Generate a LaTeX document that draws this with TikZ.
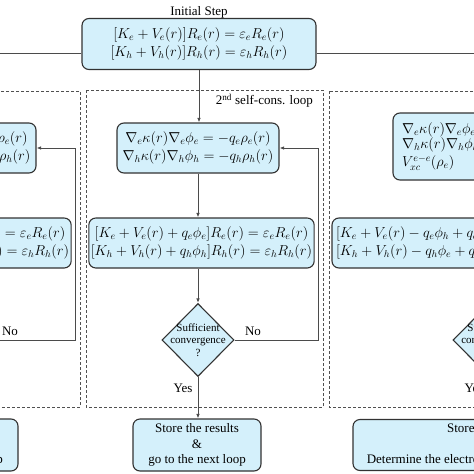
\documentclass[tikz,border=0pt]{standalone}
\usepackage[no-math]{fontspec}
\setmainfont{Liberation Serif}
\usetikzlibrary{shapes.geometric,arrows.meta,calc}
\definecolor{boxfill}{RGB}{212,240,251}
\definecolor{boxline}{RGB}{50,50,50}
\definecolor{conn}{RGB}{75,75,75}
\definecolor{dashc}{RGB}{80,80,80}
\begin{document}
\begin{tikzpicture}[x=1pt,y=-1pt,
  eqbox/.style={draw=boxline, fill=boxfill, rounded corners=7pt, line width=1.1pt,
    align=center, inner sep=2pt, font=\fontsize{14.5}{18}\selectfont},
  txtbox/.style={draw=boxline, fill=boxfill, rounded corners=7pt, line width=1.1pt,
    align=center, inner sep=2pt, font=\fontsize{13}{15.5}\selectfont},
  decision/.style={diamond, draw=boxline, fill=boxfill, line width=1.1pt, inner sep=0pt,
    minimum width=72pt, minimum height=73pt},
  dectext/.style={align=center, inner sep=0pt, font=\fontsize{11}{12.5}\selectfont},
  lbl/.style={inner sep=0pt, font=\fontsize{13}{15}\selectfont},
  conn/.style={draw=conn, line width=1pt},
  arr/.style={conn, -{Latex[length=4.5pt,width=3.5pt]}},
  loopbox/.style={draw=dashc, line width=0.9pt, dash pattern=on 3pt off 2pt}
]
\useasboundingbox (0,0) rectangle (474,474);
\clip (0,0) rectangle (474,474);

% ---------- top ----------
\node[lbl] (init) at (199,12) {Initial Step};
\node[eqbox, minimum width=234pt, minimum height=51pt] (top) at (199,44)
  {$[K_e+V_e(r)]R_e(r)=\varepsilon_e R_e(r)$\\$[K_h+V_h(r)]R_h(r)=\varepsilon_h R_h(r)$};

% ---------- dashed loop frames ----------
\draw[loopbox] (-157,91) rectangle (80,407);
\draw[loopbox] (86,90) rectangle (323,407);
\draw[loopbox] (329,91) rectangle (650,407);
\node[lbl, anchor=east] (loop2) at (313,101) {2\textsuperscript{nd} self-cons. loop};

% ---------- left column ----------
\node[eqbox, minimum width=162pt, minimum height=50pt] (lb1) at (-45,148)
  {$\nabla_e\kappa(r)\nabla_e\phi_e=-q_e\rho_e(r)$\\$\nabla_h\kappa(r)\nabla_h\phi_h=-q_h\rho_h(r)$};
\node[eqbox, minimum width=223pt, minimum height=50pt] (lb2) at (-41.5,243)
  {$[K_e+V_e(r)+q_e\phi_e]R_e(r)=\varepsilon_e R_e(r)$\\$[K_h+V_h(r)+q_h\phi_h]R_h(r)=\varepsilon_h R_h(r)$};
\node[decision] (ld) at (-45,340) {};
\node[dectext] (ldt) at (ld.center) {Sufficient\\convergence\\?};
\node[txtbox, minimum width=128pt, minimum height=52pt] (ls) at (-46,445)
  {Store the results\\\&\\go to the next loop};
\coordinate (lcorner) at (75,340);
\draw[arr] (lb1) -- (lb2);
\draw[arr] (lb2) -- (ld);
\draw[arr] (ld) -- (ls);
\draw[arr] (ld.east) -- (lcorner) |- (lb1.east);
\node[lbl] (lno) at (10,331) {No};
\node[lbl] (lyes) at (-60,388) {Yes};

% ---------- middle column ----------
\node[eqbox, minimum width=162pt, minimum height=50pt] (b1) at (198,148)
  {$\nabla_e\kappa(r)\nabla_e\phi_e=-q_e\rho_e(r)$\\$\nabla_h\kappa(r)\nabla_h\phi_h=-q_h\rho_h(r)$};
\node[eqbox, minimum width=223pt, minimum height=50pt] (b2) at (201.5,243)
  {$[K_e+V_e(r)+q_e\phi_e]R_e(r)=\varepsilon_e R_e(r)$\\$[K_h+V_h(r)+q_h\phi_h]R_h(r)=\varepsilon_h R_h(r)$};
\node[decision] (d) at (198,340) {};
\node[dectext] (dt) at (d.center) {Sufficient\\convergence\\?};
\node[txtbox, minimum width=128pt, minimum height=52pt] (s) at (197,445)
  {Store the results\\\&\\go to the next loop};
\coordinate (mcorner) at (318,340);
\draw[arr] (top.south) -- (top.south |- b1.north);
\draw[arr] (b1.south) -- (b1.south |- b2.north);
\draw[arr] (b1.south |- b2.south) -- (d.north);
\draw[arr] (d.south) -- (d.south |- s.north);
\draw[arr] (d.east) -- (mcorner) |- (b1.east);
\node[lbl] (mno) at (253,331) {No};
\node[lbl] (myes) at (183,388) {Yes};

% ---------- right column ----------
\node[eqbox, minimum width=192pt, minimum height=67pt, align=left, inner xsep=9pt,
  inner ysep=1pt, text width=174pt, font=\fontsize{14.5}{15}\selectfont] (rb1) at (489,146.5)
  {$\nabla_e\kappa(r)\nabla_e\phi_e=-q_e\rho_e(r)$\\$\nabla_h\kappa(r)\nabla_h\phi_h=-q_h\rho_h(r)$\\[3pt]$V_{xc}^{e-e}(\rho_e)$};
\node[eqbox, minimum width=314pt, minimum height=50pt, align=left, inner xsep=4pt,
  text width=306pt] (rb2) at (489,243)
  {$[K_e+V_e(r)-q_e\phi_h+q_e\phi_e]R_e(r)=\varepsilon_e R_e(r)$\\$[K_h+V_h(r)-q_h\phi_e+q_h\phi_h]R_h(r)=\varepsilon_h R_h(r)$};
\node[decision] (rd) at (489,340) {};
\node[dectext] (rdt) at (rd.center) {Sufficient\\convergence\\?};
\node[txtbox, minimum width=272pt, minimum height=51pt] (rs) at (489,445)
  {Store the results\\\&\\Determine the electronic and optical properties};
\draw[arr] (rb1) -- (rb2);
\draw[arr] (rb2) -- (rd);
\draw[arr] (rd) -- (rs);
\node[lbl] (ryes) at (474,388) {Yes};

% ---------- branches from the initial step ----------
\draw[arr] ([yshift=-9pt]top.west) -| (lb1.north);
\draw[arr] ([yshift=-9pt]top.east) -| (rb1.north);
\end{tikzpicture}
\end{document}
